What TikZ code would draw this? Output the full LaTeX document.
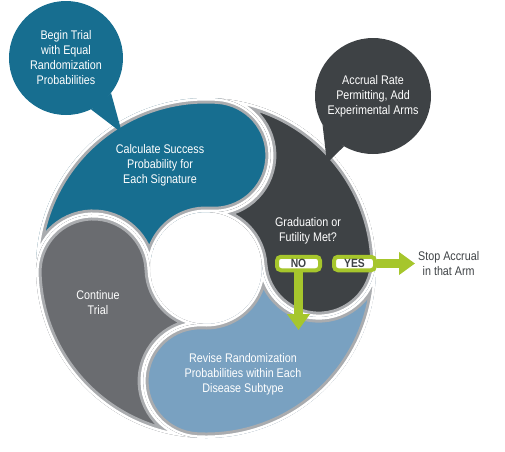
\documentclass[tikz,border=0pt]{standalone}
\usepackage{fontspec}
\setmainfont{Liberation Sans}[FakeStretch=0.86]
\usetikzlibrary{arrows.meta}
\definecolor{trialblue}{RGB}{23,110,144}
\definecolor{armgray}{RGB}{62,66,69}
\definecolor{trialgray}{RGB}{106,108,112}
\definecolor{subblue}{RGB}{121,161,193}
\definecolor{rimgray}{RGB}{170,172,175}
\definecolor{okgreen}{RGB}{166,198,44}
% one comma of the ring: #1 = head of the part before, #2 = own head
\def\ringpath#1#2{(#1:170pt) arc[start angle=#1, end angle=#2, radius=170pt] arc[start angle=#2, end angle=#2-180, radius=57pt] arc[start angle=#2, end angle=#1, radius=56pt] arc[start angle=#1+180, end angle=#1+360, radius=57pt] -- cycle}
\def\ringpart#1#2#3{\begin{scope}\clip\ringpath{#2}{#3};\fill[#1]\ringpath{#2}{#3};\draw[rimgray, line width=11pt]\ringpath{#2}{#3};\draw[white, line width=5pt]\ringpath{#2}{#3};\end{scope}}

\begin{document}
\begin{tikzpicture}[x=1pt, y=1pt,
    seglabel/.style={text=white, align=center, font=\fontsize{12.5}{15}\selectfont},
    bubble/.style={circle, inner sep=0pt, text=white, align=center, font=\fontsize{12.5}{15}\selectfont},
    choice/.style={draw=okgreen, line width=4pt, fill=white, rounded corners=4pt, minimum height=13.5pt, inner sep=0pt, text=armgray, font=\fontsize{12}{13}\selectfont\bfseries},
    greenarrow/.style={okgreen, line width=9pt, -{Triangle[width=22pt, length=16pt]}}]
	%%%%% START %%%%%
	\useasboundingbox (-206, -183) rectangle (299, 268);
	
	% the ring
	\ringpart{trialblue}{182}{86}
	\ringpart{armgray}{86}{4}
	\ringpart{subblue}{4}{-93}
	\ringpart{trialgray}{-93}{-178}
	
	\node[seglabel] (success) at (-46, 103) {Calculate Success\\Probability for\\Each Signature};
	\node[seglabel] (gradmet) at (102, 37) {Graduation or\\Futility Met?};
	\node[seglabel] (goon) at (-108, -35) {Continue\\Trial};
	\node[seglabel] (revise) at (37, -106) {Revise Randomization\\Probabilities within Each\\Disease Subtype};
	
	% bubbles
	\node[bubble, fill=trialblue, minimum size=114pt] (begin) at (-140, 210) {Begin Trial\\with Equal\\Randomization\\Probabilities};
	\fill[trialblue] (begin.-38) -- (-84, 135) -- (begin.-64) -- cycle;
	
	\node[bubble, fill=armgray, minimum size=116pt] (accrual) at (167, 172) {Accrual Rate\\Permitting, Add\\Experimental Arms};
	\fill[armgray] (accrual.210) -- (121, 105) -- (accrual.240) -- cycle;
	
	% decision
	\node[choice, minimum width=43pt] (no) at (92.5, 4.5) {NO};
	\node[choice, minimum width=41pt] (yes) at (148.5, 4.5) {YES};
	\node[anchor=west, text=armgray, align=center, inner sep=3pt, font=\fontsize{12.5}{15}\selectfont] (stop) at (209, 4.5) {Stop Accrual\\in that Arm};
	\coordinate (nodown) at (92.5, -62);
	
	\draw[greenarrow] (yes.east) -- (stop.west);
	\draw[greenarrow] (no.south) -- (nodown);
	
	%%%%% END %%%%%
\end{tikzpicture}
\end{document}
